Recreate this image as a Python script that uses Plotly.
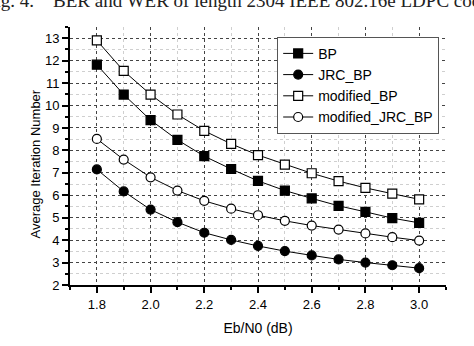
import plotly.graph_objects as go

ebn0 = [1.8, 1.9, 2.0, 2.1, 2.2, 2.3, 2.4, 2.5, 2.6, 2.7, 2.8, 2.9, 3.0]
bp = [11.82, 10.49, 9.35, 8.47, 7.74, 7.17, 6.64, 6.21, 5.86, 5.53, 5.26, 4.98, 4.77]
jrc_bp = [7.15, 6.17, 5.36, 4.80, 4.33, 4.01, 3.74, 3.51, 3.32, 3.14, 3.00, 2.88, 2.75]
mod_bp = [12.90, 11.54, 10.49, 9.60, 8.87, 8.29, 7.79, 7.37, 6.98, 6.63, 6.33, 6.07, 5.82]
mod_jrc_bp = [8.51, 7.59, 6.80, 6.21, 5.75, 5.40, 5.11, 4.86, 4.65, 4.47, 4.30, 4.13, 3.98]

series = [
    ("BP", bp, "square", "black"),
    ("JRC_BP", jrc_bp, "circle", "black"),
    ("modified_BP", mod_bp, "square", "white"),
    ("modified_JRC_BP", mod_jrc_bp, "circle", "white"),
]

FONT = "Arial, Liberation Sans, sans-serif"

fig = go.Figure()
for name, vals, sym, fill in series:
    fig.add_trace(go.Scatter(
        x=ebn0, y=vals, name=name, mode="lines+markers",
        line=dict(color="black", width=1),
        marker=dict(symbol=sym, size=9, color=fill,
                    line=dict(color="black", width=1.2)),
    ))

fig.update_layout(
    width=474, height=346,
    margin=dict(l=70, r=28, t=27, b=44),
    paper_bgcolor="white", plot_bgcolor="white",
    font=dict(family=FONT, color="black", size=13),
    showlegend=True,
    legend=dict(
        x=0.551, y=0.962, xanchor="left", yanchor="top",
        bgcolor="white", bordercolor="#555555", borderwidth=1,
        font=dict(family=FONT, size=14, color="black"),
        itemwidth=30, tracegroupgap=0,
    ),
    annotations=[
        dict(
            text="Fig. 4.\u00a0\u00a0\u00a0\u00a0BER and WER of length 2304 IEEE 802.16e LDPC codes",
            xref="paper", yref="paper",
            x=(-17 - 70) / 376, y=1 + (27 - 12) / 275,
            xanchor="left", yanchor="bottom", showarrow=False,
            font=dict(family="Liberation Serif, Times New Roman, serif", size=19, color="#222222"),
        ),
        dict(
            text="Average Iteration Number",
            xref="paper", yref="paper",
            x=(35 - 70) / 376, y=(302 - 173.5) / 275,
            xanchor="center", yanchor="middle", textangle=-90, showarrow=False,
            font=dict(family=FONT, size=13, color="black"),
        ),
    ],
)

fig.update_xaxes(
    range=[1.7, 3.1], tick0=1.8, dtick=0.2, tickformat=".1f",
    showline=True, linecolor="black", linewidth=2,
    ticks="outside", ticklen=6, tickwidth=1.5, tickcolor="black",
    showgrid=True, gridcolor="#444444", griddash="dot", gridwidth=1,
    zeroline=False,
    minor=dict(dtick=0.1, tick0=1.7, ticks="outside", ticklen=3, tickwidth=1.5,
               tickcolor="black", showgrid=True, gridcolor="#cfcfcf", gridwidth=1),
    title=dict(text="Eb/N0 (dB)", font=dict(family=FONT, size=14), standoff=13),
    tickfont=dict(family=FONT, size=13),
)
fig.update_yaxes(
    range=[2, 13.5], tick0=2, dtick=1,
    showline=True, linecolor="black", linewidth=2,
    ticks="outside", ticklen=6, tickwidth=1.5, tickcolor="black",
    showgrid=True, gridcolor="#444444", griddash="dot", gridwidth=1,
    zeroline=False,
    minor=dict(dtick=0.5, tick0=2, ticks="outside", ticklen=3, tickwidth=1.5,
               tickcolor="black", showgrid=True, gridcolor="#cfcfcf", gridwidth=1),
    tickfont=dict(family=FONT, size=13),
)

fig.write_html("out.html")
